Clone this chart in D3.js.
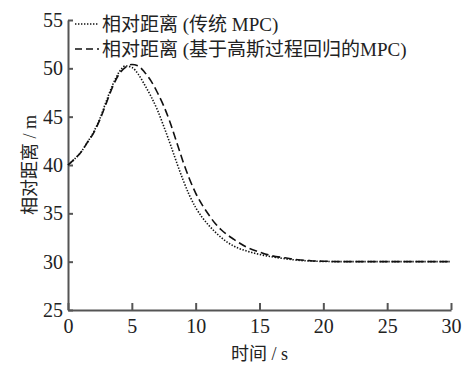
<!DOCTYPE html>
<html>
<head>
<meta charset="utf-8">
<script src="https://cdn.jsdelivr.net/npm/d3@7"></script>
<style>
  body { margin: 0; background: #fff; }
  svg text { font-family: "Liberation Serif", "Noto Sans CJK SC", serif; fill: #222; }
</style>
</head>
<body>
<svg id="chart" width="474" height="367"></svg>
<script>
// time axis samples (s)
var times = [0, 0.5, 1, 1.5, 2, 2.5, 3, 3.5, 4, 4.5, 5, 5.5, 6, 6.5, 7, 7.5, 8, 8.5, 9, 9.5,
  10, 10.5, 11, 11.5, 12, 13, 14, 15, 16, 17, 18, 19, 20, 22, 24, 26, 28, 30];
// relative distance, traditional MPC (dotted)
var distMpc = [40, 40.6, 41.3, 42.3, 43.4, 44.8, 46.6, 48.3, 49.6, 50.25, 50.1, 49.4, 48.3, 47.1, 45.7, 44.0, 42.2, 40.3, 38.5, 36.9,
  35.6, 34.6, 33.8, 33.1, 32.5, 31.6, 31.1, 30.75, 30.5, 30.3, 30.15, 30.07, 30.02, 30, 30, 30, 30, 30];
// relative distance, GP-regression MPC (dashed)
var distGpMpc = [40, 40.6, 41.3, 42.3, 43.3, 44.7, 46.4, 48.1, 49.4, 50.1, 50.4, 50.25, 49.6, 48.7, 47.5, 46.1, 44.4, 42.4, 40.4, 38.6,
  37.1, 35.9, 34.9, 34.0, 33.3, 32.3, 31.5, 31.0, 30.6, 30.4, 30.2, 30.1, 30.05, 30, 30, 30, 30, 30];
var xTicks = [0, 5, 10, 15, 20, 25, 30];
var yTicks = [25, 30, 35, 40, 45, 50, 55];
var legendLabels = ['相对距离 (传统 MPC)', '相对距离 (基于高斯过程回归的MPC)'];

var svg = d3.select('#chart');
var margin = { left: 68, right: 23, top: 20, bottom: 57 };
var width = 474 - margin.left - margin.right;
var height = 367 - margin.top - margin.bottom;

var x = d3.scaleLinear().domain([0, 30]).range([0, width]);
var y = d3.scaleLinear().domain([25, 55]).range([height, 0]);

var g = svg.append('g')
  .attr('transform', 'translate(' + margin.left + ',' + margin.top + ')');

// axes
var xAxis = g.append('g')
  .attr('transform', 'translate(0,' + height + ')')
  .call(d3.axisBottom(x).tickValues(xTicks).tickSizeInner(-7).tickSizeOuter(0).tickPadding(11));
var yAxis = g.append('g')
  .call(d3.axisLeft(y).tickValues(yTicks).tickSizeInner(-5).tickSizeOuter(0).tickPadding(5));

[xAxis, yAxis].forEach(function (ax) {
  ax.select('.domain').attr('stroke', '#555').attr('stroke-width', 2);
  ax.selectAll('.tick line').attr('stroke', '#555').attr('stroke-width', 2);
  ax.selectAll('.tick text')
    .style('font-family', '"Liberation Serif", serif')
    .style('font-size', '20px')
    .attr('fill', '#222');
});
xAxis.selectAll('.tick text').attr('dy', '0.6em');

// curves
var line = d3.line()
  .x(function (d) { return x(d[0]); })
  .y(function (d) { return y(d[1]); })
  .curve(d3.curveMonotoneX);

var seriesMpc = times.map(function (t, i) { return [t, distMpc[i]]; });
var seriesGp = times.map(function (t, i) { return [t, distGpMpc[i]]; });

g.append('path')
  .attr('d', line(seriesMpc))
  .attr('fill', 'none')
  .attr('stroke', '#111')
  .attr('stroke-width', 1.6)
  .attr('stroke-dasharray', '1.4,1.6');

g.append('path')
  .attr('d', line(seriesGp))
  .attr('fill', 'none')
  .attr('stroke', '#111')
  .attr('stroke-width', 1.6)
  .attr('stroke-dasharray', '8,4');

// legend
var legend = svg.append('g');
var legendStyles = ['1.4,1.6', '7,4'];
legendLabels.forEach(function (label, i) {
  var ly = 24 + i * 25;
  legend.append('line')
    .attr('x1', 75).attr('x2', 99)
    .attr('y1', ly).attr('y2', ly)
    .attr('stroke', '#111')
    .attr('stroke-width', 1.6)
    .attr('stroke-dasharray', legendStyles[i]);
  legend.append('text')
    .attr('x', 102)
    .attr('y', ly + 7)
    .style('font-size', '19px')
    .text(label);
});

// axis titles
svg.append('text')
  .attr('x', margin.left + width / 2)
  .attr('y', 360)
  .attr('text-anchor', 'middle')
  .style('font-size', '18px')
  .text('时间 / s');

svg.append('text')
  .attr('transform', 'translate(36,165) rotate(-90)')
  .attr('text-anchor', 'middle')
  .style('font-size', '18px')
  .text('相对距离 / m');
</script>
</body>
</html>
